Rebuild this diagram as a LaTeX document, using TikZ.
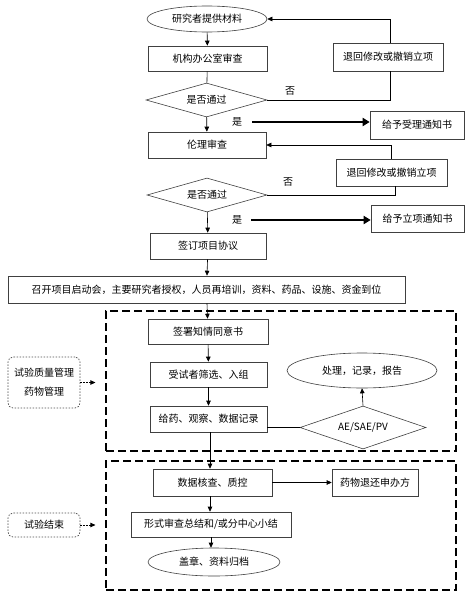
\documentclass[tikz,border=0pt]{standalone}
\usepackage{fontspec}
\setmainfont{Noto Sans CJK SC}
\usetikzlibrary{arrows.meta, shapes.geometric}

\tikzset{
  box/.style={draw=black!75, rectangle, inner sep=0pt, line width=0.6pt},
  oval/.style={draw=black!75, ellipse, inner sep=0pt, line width=0.6pt},
  decide/.style={draw=black!75, diamond, aspect=3, inner sep=0pt, line width=0.6pt},
  note/.style={draw=black!70, rounded corners=5pt, dash pattern=on 1.5pt off 1.5pt, line width=0.7pt, inner sep=0pt, align=center},
  zone/.style={draw, rectangle, dash pattern=on 8pt off 4pt, line width=1.2pt, inner sep=0pt},
  link/.style={line width=0.6pt, -{Triangle[length=5pt,width=4.5pt]}},
  boldlink/.style={line width=1.8pt, -{Triangle[length=7pt,width=8pt]}},
  dotlink/.style={line width=0.7pt, dash pattern=on 1.5pt off 1.5pt, -{Triangle[length=5pt,width=4.5pt]}}
}

\begin{document}
\begin{tikzpicture}[x=1pt,y=-1pt]
    \useasboundingbox (0,0) rectangle (474,610);

    % dashed frames
    \node[zone, minimum width=350, minimum height=140] (trial) at (281,381) {};
    \node[zone, minimum width=350, minimum height=129] (closeout) at (281,525.5) {};

    % approval part
    \node[oval, minimum width=120, minimum height=26] (src) at (207,19) {研究者提供材料};
    \node[box, minimum width=119, minimum height=25] (office) at (207.5,58.5) {机构办公室审查};
    \node[decide, minimum width=121, minimum height=34] (pass1) at (206.5,100) {是否通过};
    \node[box, minimum width=110, minimum height=28] (back1) at (388,57) {退回修改或撤销立项};
    \node[box, minimum width=94, minimum height=28] (accept) at (417,125) {给予受理通知书};
    \node[box, minimum width=118, minimum height=26] (ethic) at (207,145) {伦理审查};
    \node[box, minimum width=111, minimum height=27] (back2) at (391.5,172.5) {退回修改或撤销立项};
    \node[decide, minimum width=120, minimum height=34] (pass2) at (207,195) {是否通过};
    \node[box, minimum width=93, minimum height=27] (approve) at (417.5,218.5) {给予立项通知书};
    \node[box, minimum width=116, minimum height=26] (sign) at (208,246) {签订项目协议};
    \node[box, minimum width=397, minimum height=27] (kick) at (206.5,289.5) {召开项目启动会，主要研究者授权，人员再培训，资料、药品、设施、资金到位};

    \node (no1) at (290,91) {否};
    \node (yes1) at (237,122) {是};
    \node (no2) at (288,182) {否};
    \node (yes2) at (237,220) {是};

    % trial part
    \node[box, minimum width=120, minimum height=25] (consent) at (208,331.5) {签署知情同意书};
    \node[box, minimum width=117, minimum height=25] (screen) at (208.5,374.5) {受试者筛选、入组};
    \node[box, minimum width=117, minimum height=26] (dose) at (208.5,419) {给药、观察、数据记录};
    \node[decide, minimum width=126, minimum height=43] (ae) at (363,427.5) {AE/SAE/PV};
    \node[oval, minimum width=150, minimum height=35] (handle) at (362,370.5) {处理，记录，报告};
    \node[note, minimum width=72, minimum height=51] (qm) at (44,382.5) {试验质量管理\\[7pt]药物管理};

    % closing part
    \node[box, minimum width=119, minimum height=27] (check) at (212.5,482.5) {数据核查、质控};
    \node[box, minimum width=86, minimum height=27] (ret) at (375,482.5) {药物退还申办方};
    \node[box, minimum width=160, minimum height=25] (summary) at (211,524.5) {形式审查总结和/或分中心小结};
    \node[oval, minimum width=132, minimum height=28] (archive) at (214,562) {盖章、资料归档};
    \node[note, minimum width=72, minimum height=24] (finish) at (44,525) {试验结束};

    \coordinate (go1) at (252,122);
    \coordinate (go2) at (251,220);

    % connectors
    \draw[link] (src) -- (office);
    \draw[line width=0.6pt] (office) -- (pass1);
    \draw[line width=0.6pt] (pass1.east) -| ([xshift=2pt]back1.south);
    \draw[link] ([xshift=2pt]back1.north) |- (src.east);
    \draw[link] (pass1) -- (ethic);
    \draw[boldlink] (go1) -- (go1 -| accept.west);
    \draw[link] (back2.north) |- (ethic.east);
    \draw[line width=0.6pt] (pass2.east) -| ([xshift=3.5pt]back2.south);
    \draw[link] (pass2) -- (sign);
    \draw[boldlink] (go2) -- (go2 -| approve.west);
    \draw[link] (sign) -- (kick);
    \draw[link] (kick) -- (consent);
    \draw[link] (consent) -- (screen);
    \draw[link] (screen) -- (dose);
    \draw[line width=0.6pt] (dose.east |- ae.west) -- (ae.west);
    \draw[link] (ae.north) -- (handle.south);
    \draw[link] ([xshift=1.5pt]dose.south) -- ([xshift=1.5pt]dose.south |- check.north);
    \draw[link] (check.east) -- (ret.west);
    \draw[link] ([xshift=-2.5pt]check.south) -- ([xshift=-2.5pt]check.south |- summary.north);
    \draw[link] (summary.south) -- (summary.south |- archive.north);
    \draw[dotlink, shorten >=10pt] (qm.east) -- (qm.east -| trial.west);
    \draw[dotlink, shorten >=10pt] (finish.east) -- (finish.east -| closeout.west);
\end{tikzpicture}
\end{document}
